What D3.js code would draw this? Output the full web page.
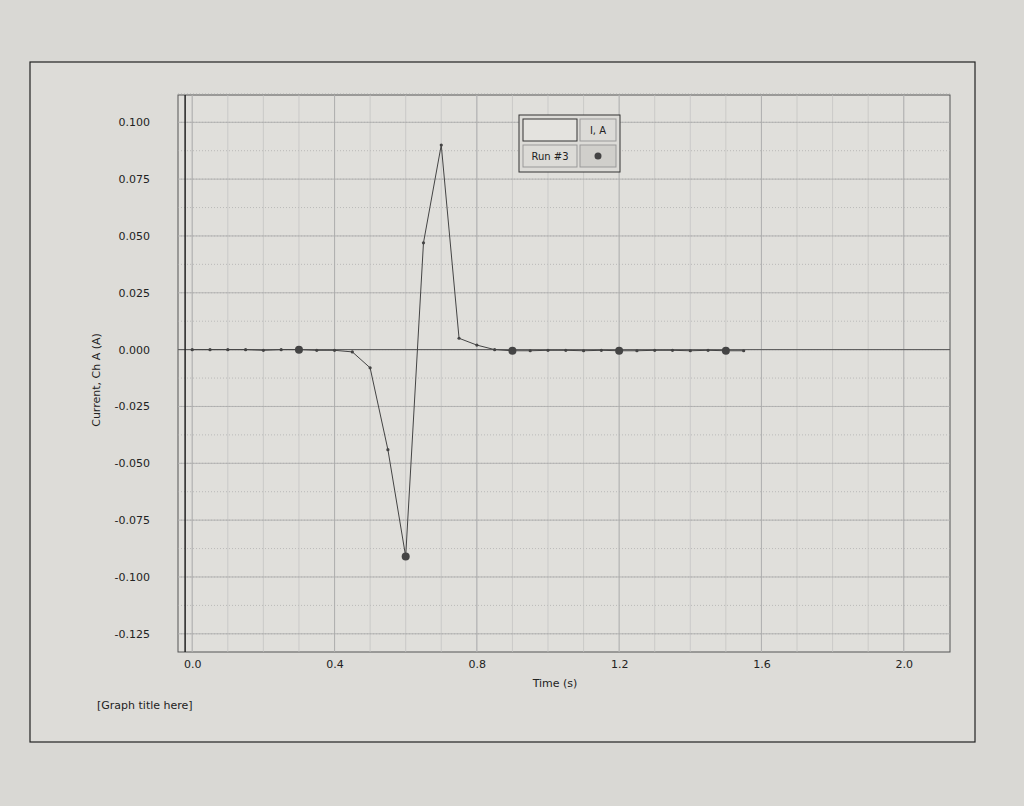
<!DOCTYPE html><html><head><meta charset="utf-8"><script src="https://cdn.jsdelivr.net/npm/d3@7"></script>
<style>body{margin:0;background:#d9d8d4;font-family:"DejaVu Sans",sans-serif}</style></head><body><svg id="c" width="1024" height="806"></svg>
<script>
const times=[0,0.05,0.1,0.15,0.2,0.25,0.3,0.35,0.4,0.45,0.5,0.55,0.6,0.65,0.7,0.75,0.8,0.85,0.9,0.95,1.0,1.05,1.1,1.15,1.2,1.25,1.3,1.35,1.4,1.45,1.5,1.55];
const current=[0,0,0,0,-0.0003,0,0,-0.0003,-0.0003,-0.001,-0.008,-0.044,-0.091,0.047,0.090,0.005,0.002,0,-0.0005,-0.0005,-0.0003,-0.0003,-0.0005,-0.0003,-0.0005,-0.0005,-0.0003,-0.0003,-0.0005,-0.0003,-0.0005,-0.0005];
const bigIdx=[6,12,18,24,30];
const xTicks=[0,0.4,0.8,1.2,1.6,2.0];
const yTicks=[0.1,0.075,0.05,0.025,0,-0.025,-0.05,-0.075,-0.1,-0.125];
const svg=d3.select("#c");
svg.append("rect").attr("x",30).attr("y",62).attr("width",945).attr("height",680).attr("fill","#dddcd8").attr("stroke","#222").attr("stroke-width",1.2);
const L=178,R=950,T=95,B=652;
const x=d3.scaleLinear().domain([-0.04,2.13]).range([L,R]);
const y=d3.scaleLinear().domain([0.112,-0.133]).range([T,B]);
const g=svg.append("g");
g.append("rect").attr("x",L).attr("y",T).attr("width",R-L).attr("height",B-T).attr("fill","#e0dfdb").attr("stroke","#555");
d3.range(-0.125,0.1126,0.0125).forEach(v=>g.append("line").attr("x1",L).attr("x2",R).attr("y1",y(v)).attr("y2",y(v)).attr("stroke","#aaa").attr("stroke-dasharray","1,2").attr("stroke-width",0.7));
d3.range(0,2.1,0.1).forEach(v=>g.append("line").attr("y1",T).attr("y2",B).attr("x1",x(v)).attr("x2",x(v)).attr("stroke","#c2c2c0").attr("stroke-width",0.7));
yTicks.forEach(v=>g.append("line").attr("x1",L).attr("x2",R).attr("y1",y(v)).attr("y2",y(v)).attr("stroke","#aaa").attr("stroke-width",0.8));
xTicks.forEach(v=>g.append("line").attr("y1",T).attr("y2",B).attr("x1",x(v)).attr("x2",x(v)).attr("stroke","#aaa").attr("stroke-width",0.8));
g.append("line").attr("x1",L).attr("x2",R).attr("y1",y(0)).attr("y2",y(0)).attr("stroke","#555");
g.append("line").attr("y1",T).attr("y2",B).attr("x1",x(-0.02)).attr("x2",x(-0.02)).attr("stroke","#222").attr("stroke-width",1.5);
const fmt=d3.format(".3f");
const ya=d3.axisLeft(y).tickValues(yTicks).tickFormat(d=>fmt(d).replace("\u2212","-")).tickSize(0).tickPadding(8);
svg.append("g").attr("transform",`translate(${L-20},0)`).call(ya).call(a=>a.select(".domain").remove()).selectAll("text").attr("font-size",11).attr("fill","#222").attr("font-family","DejaVu Sans");
const xa=d3.axisBottom(x).tickValues(xTicks).tickFormat(d3.format(".1f")).tickSize(0).tickPadding(8);
svg.append("g").attr("transform",`translate(0,${B})`).call(xa).call(a=>a.select(".domain").remove()).selectAll("text").attr("font-size",11).attr("fill","#222").attr("font-family","DejaVu Sans");
svg.append("text").attr("x",555).attr("y",687).attr("text-anchor","middle").attr("font-size",11).attr("fill","#222").text("Time (s)");
svg.append("text").attr("transform","translate(100,380) rotate(-90)").attr("text-anchor","middle").attr("font-size",11).attr("fill","#222").text("Current, Ch A (A)");
svg.append("text").attr("x",97).attr("y",709).attr("font-size",11).attr("fill","#222").text("[Graph title here]");
const pts=times.map((t,i)=>[t,current[i]]);
g.append("path").attr("d",d3.line().x(d=>x(d[0])).y(d=>y(d[1]))(pts)).attr("fill","none").attr("stroke","#444").attr("stroke-width",1);
g.selectAll("circle").data(pts).join("circle").attr("cx",d=>x(d[0])).attr("cy",d=>y(d[1])).attr("r",(d,i)=>bigIdx.includes(i)?4:1.6).attr("fill","#444");
const lg=svg.append("g").attr("transform","translate(519,115)");
lg.append("rect").attr("width",101).attr("height",57).attr("fill","#dcdbd7").attr("stroke","#333");
lg.append("rect").attr("x",4).attr("y",4).attr("width",54).attr("height",22).attr("fill","#e4e3df").attr("stroke","#333");
lg.append("rect").attr("x",61).attr("y",4).attr("width",36).attr("height",22).attr("fill","#dcdbd7").attr("stroke","#999");
lg.append("rect").attr("x",4).attr("y",30).attr("width",54).attr("height",22).attr("fill","#dcdbd7").attr("stroke","#999");
lg.append("rect").attr("x",61).attr("y",30).attr("width",36).attr("height",22).attr("fill","#d0cfcb").attr("stroke","#999");
lg.append("text").attr("x",79).attr("y",19).attr("text-anchor","middle").attr("font-size",10).attr("fill","#222").text("I, A");
lg.append("text").attr("x",31).attr("y",45).attr("text-anchor","middle").attr("font-size",10).attr("fill","#222").text("Run #3");
lg.append("circle").attr("cx",79).attr("cy",41).attr("r",3.5).attr("fill","#444");
</script></body></html>
